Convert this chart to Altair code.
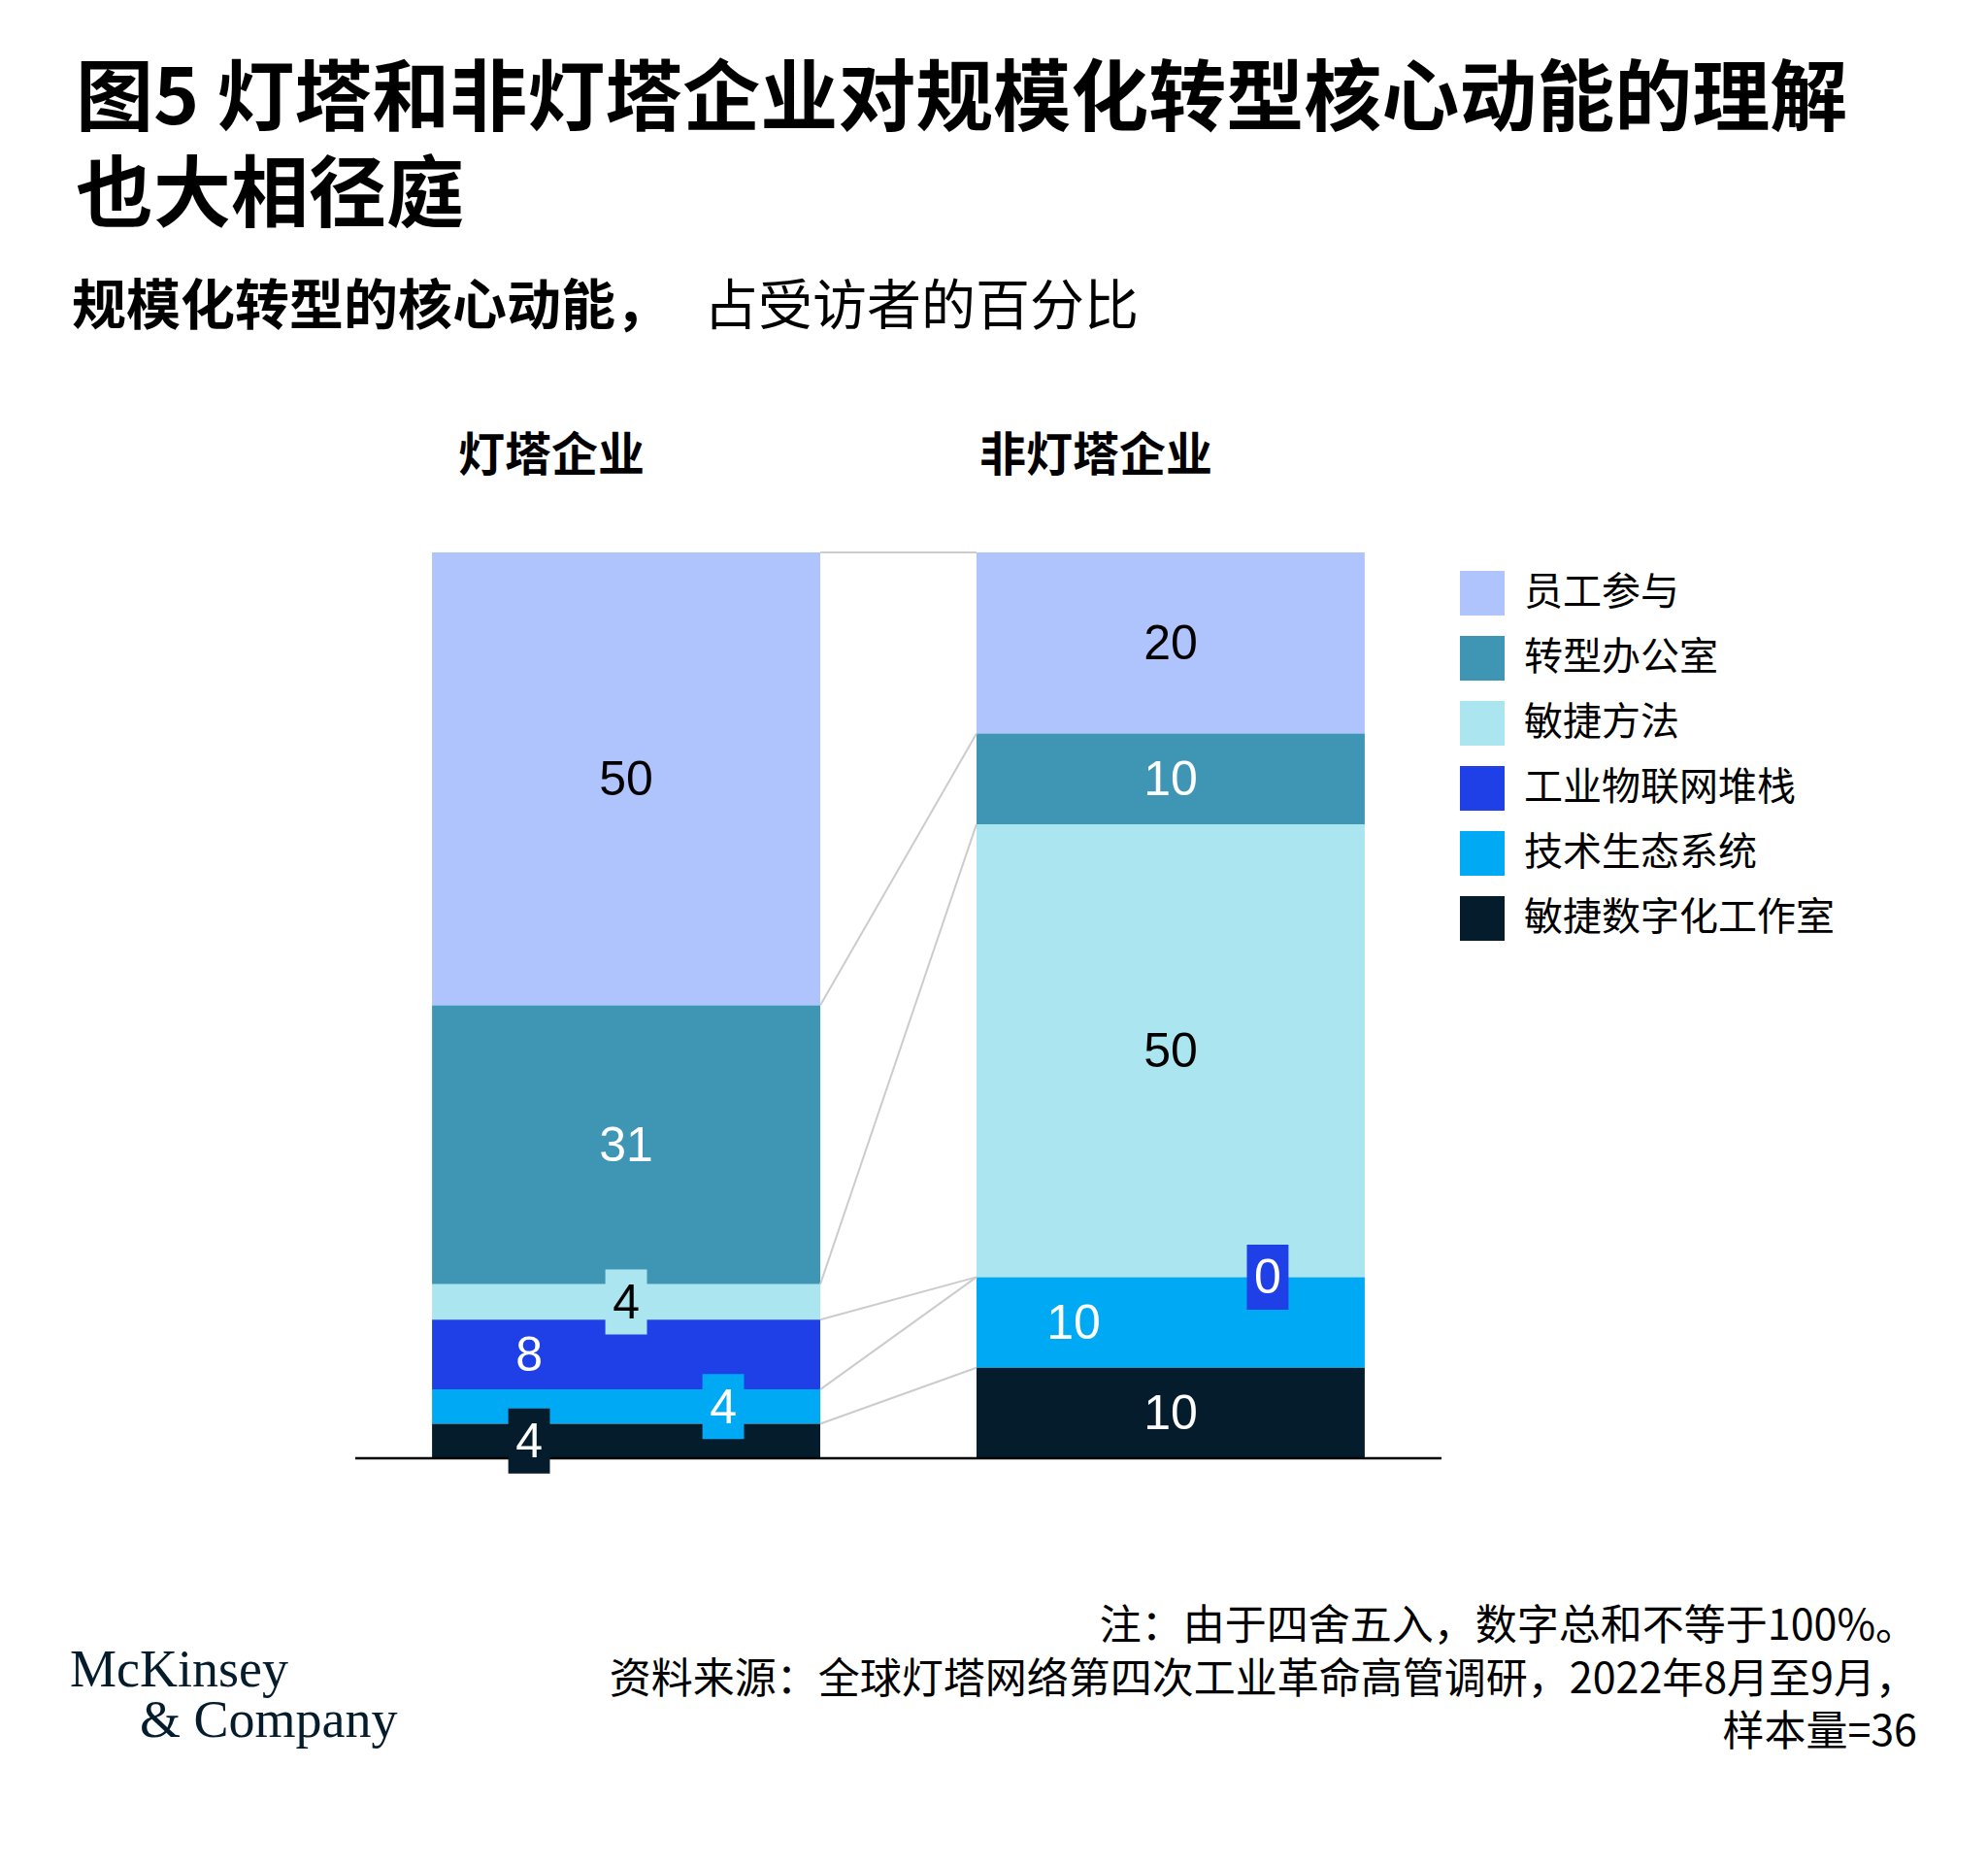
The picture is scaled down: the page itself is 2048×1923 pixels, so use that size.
import altair as alt
import pandas as pd

# ---------------- data ----------------
groups = ["灯塔企业", "非灯塔企业"]
categories = ["员工参与", "转型办公室", "敏捷方法", "工业物联网堆栈", "技术生态系统", "敏捷数字化工作室"]
lighthouse_values = [50, 30.8, 3.9, 7.7, 3.8, 3.8]
lighthouse_labels = ["50", "31", "4", "8", "4", "4"]
non_lighthouse_values = [20, 10, 50, 0, 10, 10]
non_lighthouse_labels = ["20", "10", "50", "0", "10", "10"]

title_lines = ["图5 灯塔和非灯塔企业对规模化转型核心动能的理解", "也大相径庭"]
subtitle_bold = "规模化转型的核心动能，"
subtitle_rest = "占受访者的百分比"
notes = ["注：由于四舍五入，数字总和不等于100%。",
         "资料来源：全球灯塔网络第四次工业革命高管调研，2022年8月至9月，",
         "样本量=36"]
logo_lines = ["McKinsey", "& Company"]

# ---------------- style ----------------
palette = ["#AFC3FD", "#3E96B4", "#ABE5F0", "#1F40E6", "#00A9F4", "#051C2C"]
dark_text_cats = {"员工参与", "敏捷方法"}
# label side shift (-1 left of centre, +1 right of centre) for crowded segments
label_shift = {
    ("灯塔企业", "工业物联网堆栈"): -1,
    ("灯塔企业", "技术生态系统"): 1,
    ("灯塔企业", "敏捷数字化工作室"): -1,
    ("非灯塔企业", "工业物联网堆栈"): 1,
    ("非灯塔企业", "技术生态系统"): -1,
}
SHIFT_PX = 100
W, H = 1119, 933
CJK = "Noto Sans CJK SC"
SANS = "Liberation Sans"

# ---------------- tables ----------------
rows = []
for g, vals, labs in [(groups[0], lighthouse_values, lighthouse_labels),
                      (groups[1], non_lighthouse_values, non_lighthouse_labels)]:
    base = 0.0
    seg = {}
    for i in reversed(range(len(categories))):
        seg[i] = (base, base + vals[i])
        base += vals[i]
    for i, c in enumerate(categories):
        y0, y1 = seg[i]
        rows.append(dict(group=g, category=c, value=vals[i], label=labs[i],
                         y0=y0, y1=y1, mid=(y0 + y1) / 2,
                         hex=palette[i],
                         tc="#000000" if c in dark_text_cats else "#FFFFFF",
                         boxed=vals[i] < 5,
                         shift=label_shift.get((g, c), 0)))
df = pd.DataFrame(rows)

left = df[df.group == groups[0]].set_index("category")
right = df[df.group == groups[1]].set_index("category")
conn = pd.DataFrame({
    "g1": groups[0], "g2": groups[1],
    "ya": [left.loc[c, "y1"] for c in categories],
    "yb": [right.loc[c, "y1"] for c in categories],
})

xscale = alt.Scale(domain=groups, paddingInner=0.287, paddingOuter=0.141)
yscale = alt.Scale(domain=[0, 100], nice=False)

bars = alt.Chart(df).mark_bar(strokeWidth=0).encode(
    x=alt.X("group:N", scale=xscale, sort=groups, axis=None),
    y=alt.Y("y0:Q", scale=yscale, axis=None),
    y2="y1:Q",
    color=alt.Color("category:N",
                    scale=alt.Scale(domain=categories, range=palette),
                    legend=alt.Legend(title=None, orient="none", legendX=1138, legendY=19,
                                      symbolType="square", symbolSize=2116,
                                      symbolStrokeWidth=0, symbolOpacity=1,
                                      labelFont=CJK, labelFontSize=40,
                                      labelColor="#000000", labelOffset=20,
                                      rowPadding=21, padding=0, labelLimit=500)),
)

headers = alt.Chart(pd.DataFrame({"group": groups})).mark_text(
    font=CJK, fontSize=48, fontWeight="bold", color="#000000",
    baseline="middle", align="center", dx=-77).encode(
    x=alt.X("group:N", axis=None),
    y=alt.value(-98),
    text="group:N",
)

connectors = alt.Chart(conn).mark_rule(color="#CCCCCC", strokeWidth=2).encode(
    x=alt.X("g1:N", bandPosition=1, axis=None),
    x2=alt.X2("g2:N", bandPosition=0),
    y=alt.Y("ya:Q", axis=None),
    y2="yb:Q",
)

baseline = alt.Chart(pd.DataFrame({"v": [0]})).mark_rule(color="#000000", strokeWidth=2.5).encode(
    x=alt.value(0), x2=alt.value(W), y=alt.Y("v:Q", axis=None),
)

box_shape = "M-0.64,-1L0.64,-1L0.64,1L-0.64,1Z"
layers = [bars, connectors, baseline, headers]
for s in (-1, 0, 1):
    sub = df[df["shift"] == s]
    boxes = alt.Chart(sub[sub.boxed]).mark_point(
        shape=box_shape, size=4489, filled=True, opacity=1, strokeWidth=0,
        xOffset=s * SHIFT_PX).encode(
        x=alt.X("group:N", axis=None),
        y=alt.Y("mid:Q", axis=None),
        fill=alt.Fill("hex:N", scale=None),
    )
    texts = alt.Chart(sub).mark_text(
        font=SANS, fontSize=50, baseline="middle", align="center",
        dx=s * SHIFT_PX, dy=2).encode(
        x=alt.X("group:N", axis=None),
        y=alt.Y("mid:Q", axis=None),
        text="label:N",
        fill=alt.Fill("tc:N", scale=None),
    )
    layers += [boxes, texts]


def note(txt, x, y, size, weight="normal", align="left", font=CJK, color="#000000"):
    return alt.Chart(pd.DataFrame({"t": [txt]})).mark_text(
        font=font, fontSize=size, fontWeight=weight, align=align,
        baseline="middle", color=color).encode(
        text="t:N", x=alt.value(x), y=alt.value(y))


layers += [
    note(title_lines[0], -288, -465, 80, "bold"),
    note(title_lines[1], -288, -366, 80, "bold"),
    note(subtitle_bold, -292, -252, 56, "bold"),
    note(subtitle_rest, 359, -252, 56),
    note(notes[0], 1609, 1107, 43, align="right"),
    note(notes[1], 1609, 1162, 43, align="right"),
    note(notes[2], 1609, 1216, 43, align="right"),
    note(logo_lines[0], -294, 1152, 54, font="Liberation Serif", color="#051C2C"),
    note(logo_lines[1], -222, 1204, 54, font="Liberation Serif", color="#051C2C"),
]

chart = alt.layer(*layers).properties(
    width=W, height=H,
    autosize=alt.AutoSizeParams(type="none"),
    padding={"left": 358, "top": 561, "right": 555, "bottom": 413},
    background="#FFFFFF",
).configure_view(stroke=None)

chart.save("out.html", embed_options={"renderer": "svg", "actions": False})
